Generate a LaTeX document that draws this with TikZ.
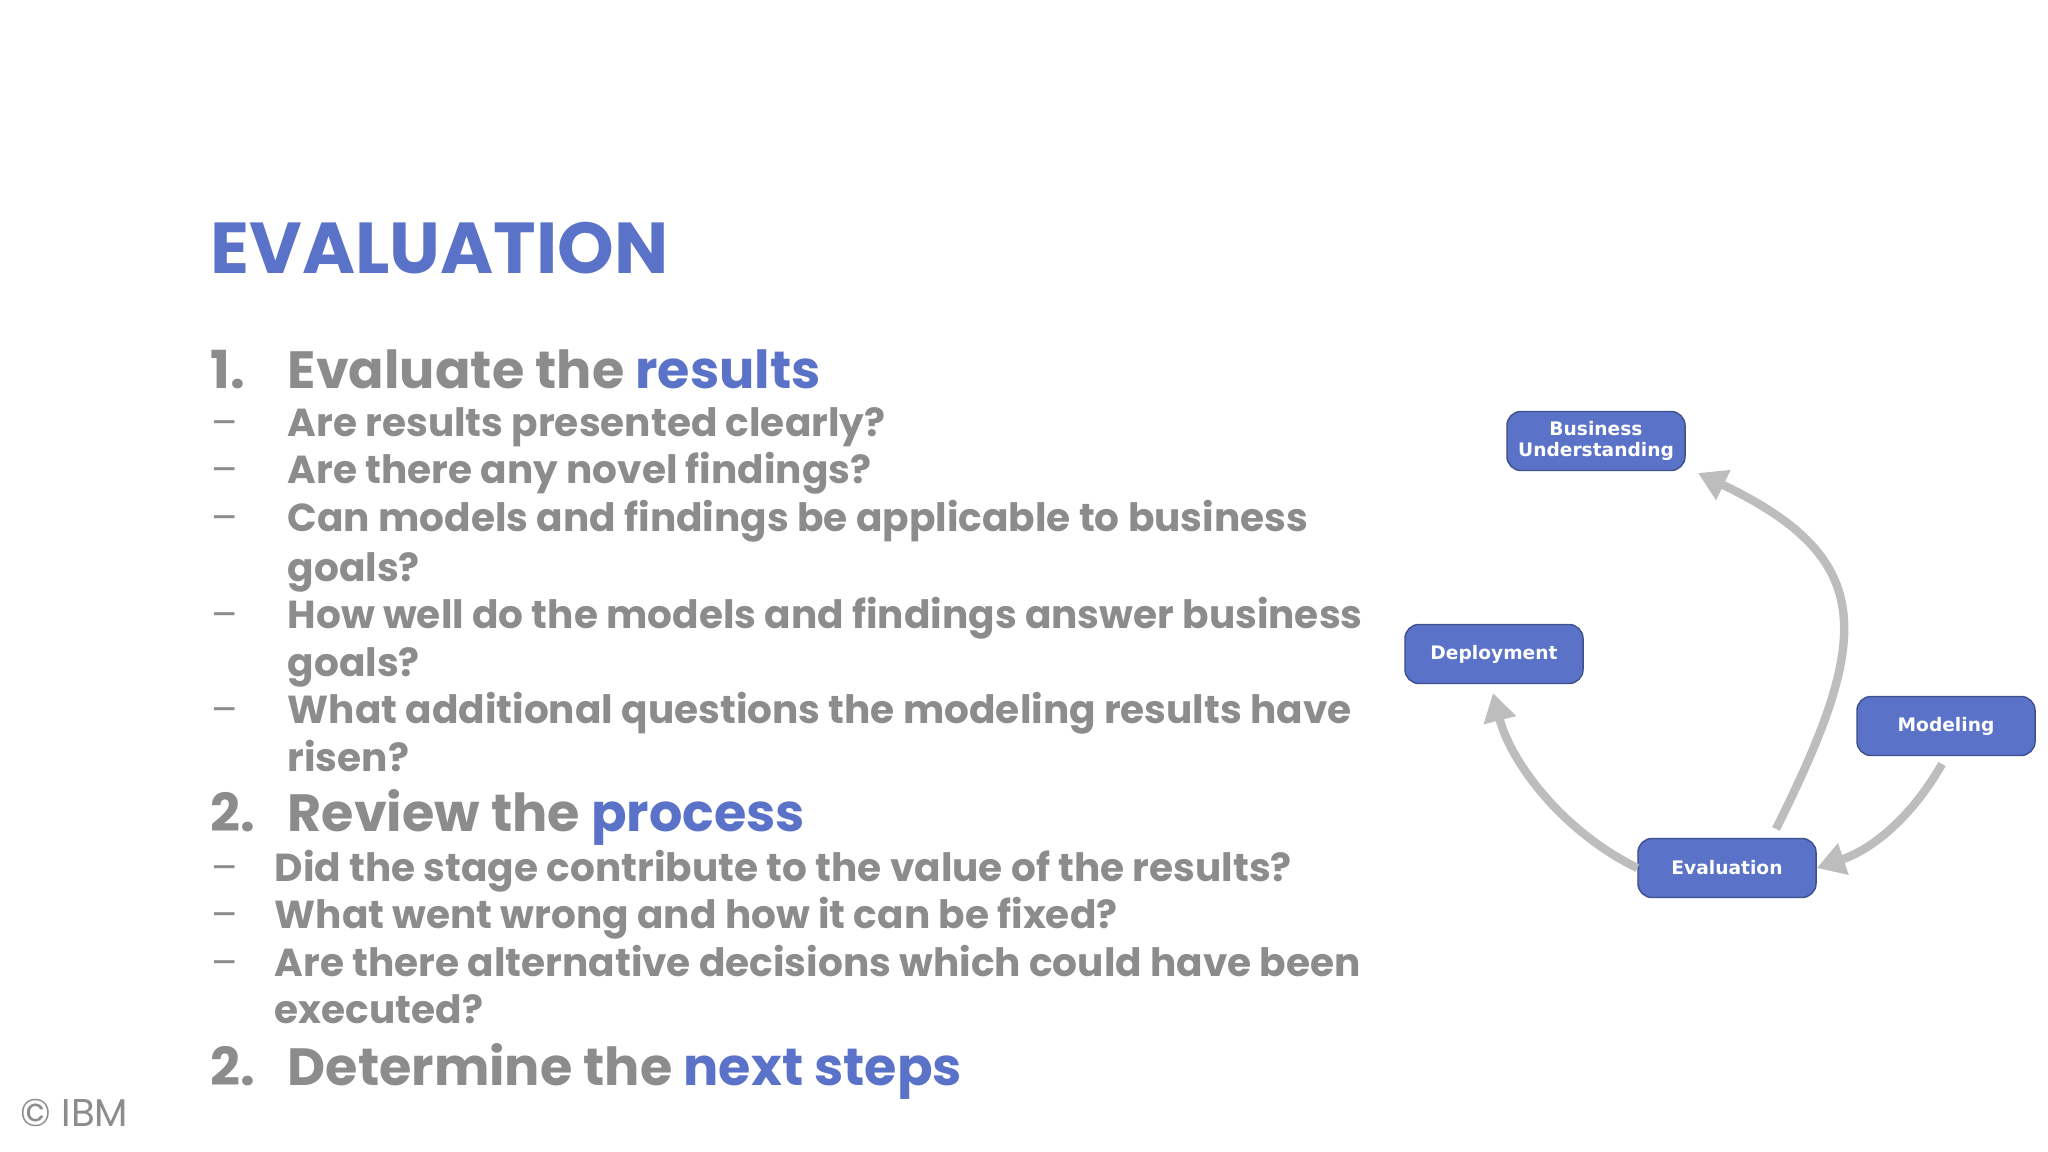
\documentclass[tikz,border=0pt]{standalone}
\usepackage{fontspec}
\setmainfont{Poppins}
\newfontfamily\boxfont{DejaVu Sans}
\usetikzlibrary{arrows.meta}
\definecolor{ibmblue}{HTML}{5A72C8}
\definecolor{txtgray}{HTML}{8C8C8C}
\definecolor{arrgray}{HTML}{BDBDBD}
\tikzset{
  stage/.style={draw=ibmblue!70!black, fill=ibmblue, rounded corners=4pt, minimum width=1.78cm,
    minimum height=0.59cm, text=white, align=center, font=\boxfont\bfseries\fontsize{5.3}{6}\selectfont, inner sep=1pt},
  cyc/.style={draw=arrgray, line width=2.4pt, -{Triangle[length=8pt,width=9pt]}},
  item/.style={anchor=base west, inner sep=0pt, text=txtgray, font=\bfseries\fontsize{11.1}{13}\selectfont},
  bulletdash/.style={anchor=base west, inner sep=0pt, text=txtgray, font=\fontsize{11.1}{13}\selectfont},
  head/.style={anchor=base west, inner sep=0pt, text=txtgray, font=\bfseries\fontsize{14.9}{17}\selectfont}
}
\begin{document}
\begin{tikzpicture}[x=0.01cm,y=-0.01cm]
\useasboundingbox (0,0) rectangle (2048,1152);
\node[anchor=base west, inner sep=0pt, text=ibmblue, font=\bfseries\fontsize{20.5}{24}\selectfont] (title) at (210,274) {EVALUATION};
% evaluate the results
\node[head] (h1) at (210,389) {1.};
\node[head] (h1t) at (287,389) {Evaluate the \textcolor{ibmblue}{results}};
\foreach \y/\t in {437/Are results presented clearly?, 484/Are there any novel findings?,
  532/Can models and findings be applicable to business, 628/How well do the models and findings answer business,
  723/What additional questions the modeling results have}
  {\node[bulletdash] at (211,\y) {–}; \node[item] at (287,\y) {\t};}
\foreach \y/\t in {581/goals?, 676/goals?, 771/risen?}
  \node[item] at (287,\y) {\t};
% review the process
\node[head] (h2) at (210,831) {2.};
\node[head] (h2t) at (287,831) {Review the \textcolor{ibmblue}{process}};
\foreach \y/\t in {881/Did the stage contribute to the value of the results?, 928/What went wrong and how it can be fixed?,
  976/Are there alternative decisions which could have been}
  {\node[bulletdash] at (211,\y) {–}; \node[item] at (274,\y) {\t};}
\node[item] at (274,1023) {executed?};
\node[head] (h3) at (210,1085) {2.};
\node[head] (h3t) at (287,1085) {Determine the \textcolor{ibmblue}{next steps}};
\node[anchor=west, inner sep=0pt, text=txtgray, font=\fontsize{11}{13}\selectfont] (ibm) at (20,1113) {\textcopyright{} IBM};
% cycle
\node[stage] (bu) at (1596,441) {Business\\Understanding};
\node[stage] (dep) at (1494,654) {Deployment};
\node[stage] (mod) at (1946,726) {Modeling};
\node[stage] (eva) at (1727,868) {Evaluation};
\draw[cyc] (1776,829) .. controls (1870,640) and (1880,560) .. (1698,473);
\draw[cyc] (1942,764) .. controls (1910,820) and (1870,850) .. (eva.east);
\draw[cyc] (eva.west) .. controls (1560,830) and (1510,760) .. (1493,693);
\end{tikzpicture}
\end{document}
